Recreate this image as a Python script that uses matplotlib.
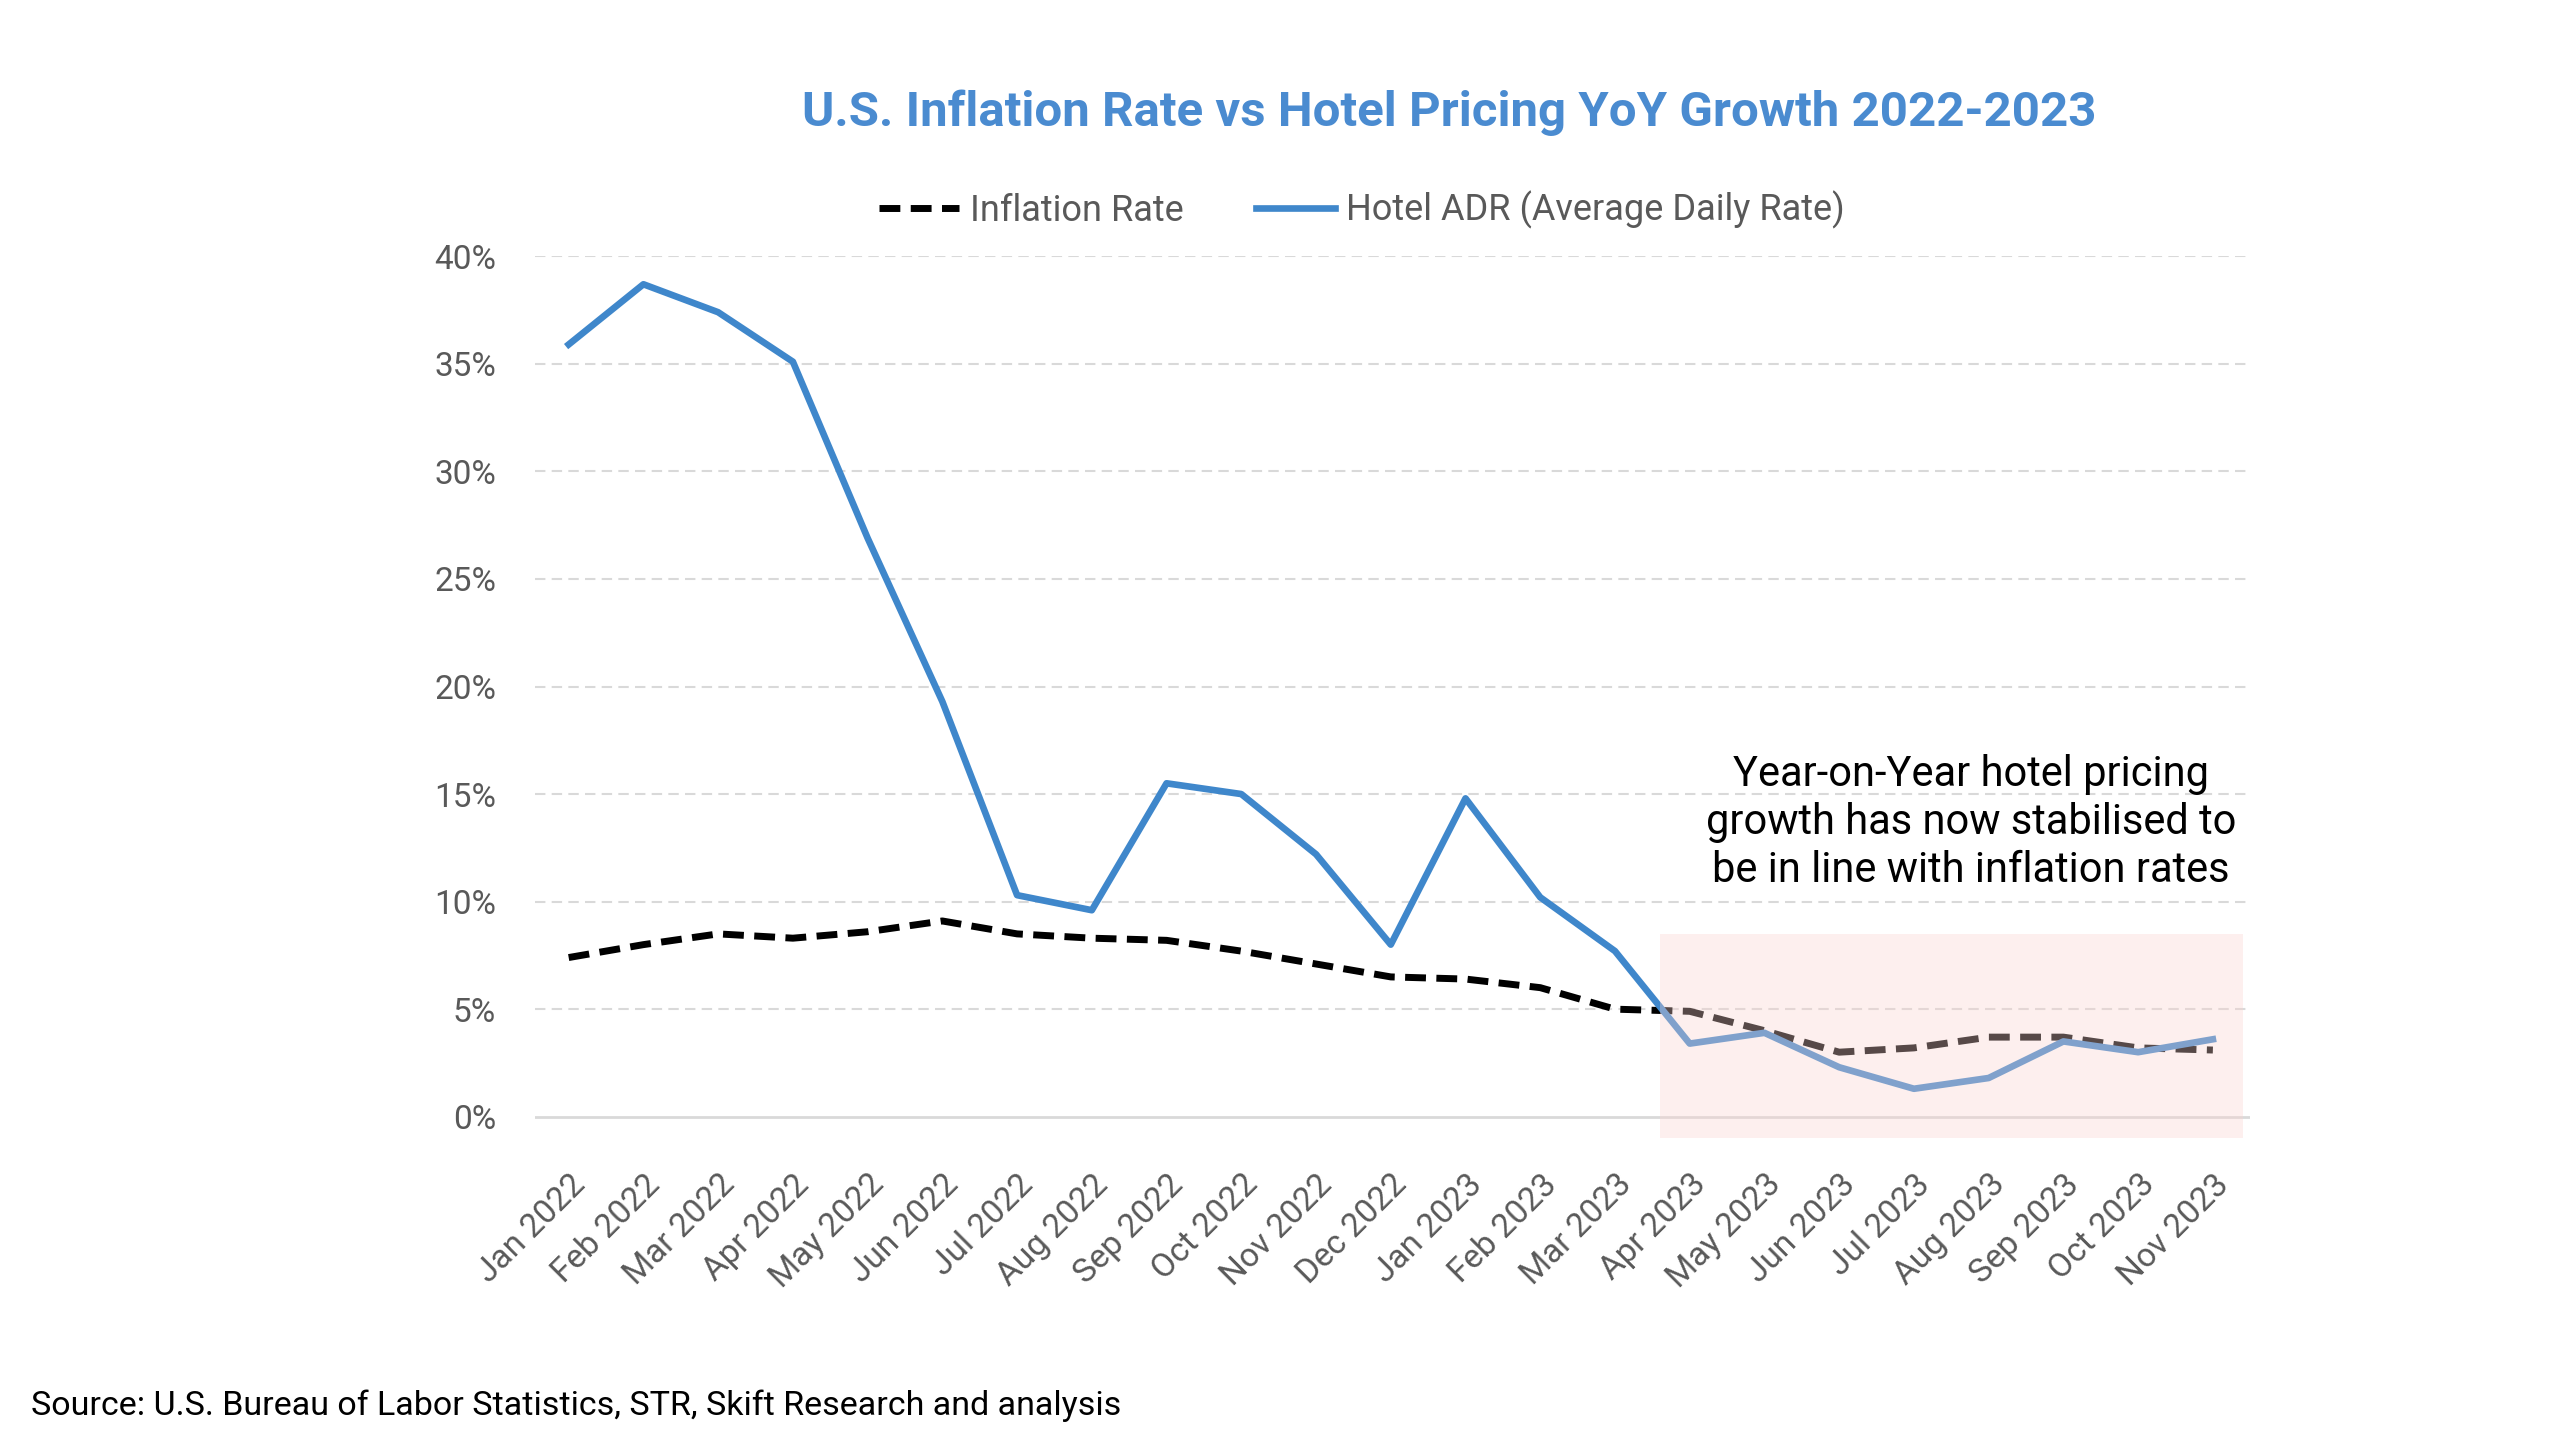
import matplotlib
matplotlib.use("Agg")
from matplotlib import pyplot as plt
from matplotlib.patches import Rectangle

plt.rcParams['font.family'] = ['Roboto', 'DejaVu Sans']

months = ["Jan 2022", "Feb 2022", "Mar 2022", "Apr 2022", "May 2022", "Jun 2022",
          "Jul 2022", "Aug 2022", "Sep 2022", "Oct 2022", "Nov 2022", "Dec 2022",
          "Jan 2023", "Feb 2023", "Mar 2023", "Apr 2023", "May 2023", "Jun 2023",
          "Jul 2023", "Aug 2023", "Sep 2023", "Oct 2023", "Nov 2023"]
inflation = [7.4, 8.0, 8.5, 8.3, 8.6, 9.1, 8.5, 8.3, 8.2, 7.7, 7.1, 6.5,
             6.4, 6.0, 5.0, 4.9, 4.0, 3.0, 3.2, 3.7, 3.7, 3.2, 3.1]
hotel_adr = [35.9, 38.7, 37.4, 35.1, 26.9, 19.3, 10.3, 9.6, 15.5, 15.0, 12.2, 8.0,
             14.8, 10.2, 7.7, 3.4, 3.9, 2.3, 1.3, 1.8, 3.5, 3.0, 3.6]
yticks = [0, 5, 10, 15, 20, 25, 30, 35, 40]

blue = '#3f87cb'
grey = '#595959'

fig = plt.figure(figsize=(25.6, 14.48), dpi=100)
ax = fig.add_axes([0.209, 0.2065, 0.67, 0.6165])

x = list(range(len(months)))
ax.plot(x, inflation, color='black', lw=5, dashes=(3, 1.5), label='Inflation Rate', zorder=3)
ax.plot(x, hotel_adr, color=blue, lw=4.8, label='Hotel ADR (Average Daily Rate)', zorder=3)

# highlight box sits on top of the lines, so they look faded inside it
ax.add_patch(Rectangle((14.6, -1.0), 7.8, 9.5, facecolor='#fad3cf', alpha=0.35,
                       edgecolor='none', zorder=4, clip_on=False))

ax.set_xlim(-0.45, 22.5)
ax.set_ylim(-1.5, 40)
ax.set_yticks(yticks)
ax.set_yticklabels([f"{v}%" for v in yticks])
ax.set_xticks(x)
ax.set_xticklabels(months, rotation=45, ha='right', rotation_mode='anchor')
ax.tick_params(axis='both', length=0, labelsize=24, colors=grey)
ax.tick_params(axis='y', pad=28)
ax.tick_params(axis='x', pad=14)
for s in ax.spines.values():
    s.set_visible(False)
for v in yticks[1:]:
    ax.axhline(v, color='#d9d9d9', lw=1.5, ls=(0, (5, 3)), zorder=1)
ax.axhline(0, color='#d9d9d9', lw=2, zorder=1)

fig.text(0.566, 0.922, "U.S. Inflation Rate vs Hotel Pricing YoY Growth 2022-2023",
         ha='center', va='center', fontsize=35.5, fontweight='bold', color='#4a8bd0')

fig.legend(loc='center', bbox_to_anchor=(0.532, 0.855), ncol=2, frameon=False,
           fontsize=26, labelcolor=grey, handlelength=2.2, handletextpad=0.3,
           columnspacing=2.0)

fig.text(0.770, 0.432, "Year-on-Year hotel pricing\ngrowth has now stabilised to\nbe in line with inflation rates",
         ha='center', va='center', fontsize=30, color='black', linespacing=1.23, zorder=10)

fig.text(0.012, 0.029, "Source: U.S. Bureau of Labor Statistics, STR, Skift Research and analysis",
         ha='left', va='center', fontsize=24.5, color='black')

plt.savefig('out.png', dpi=100)
